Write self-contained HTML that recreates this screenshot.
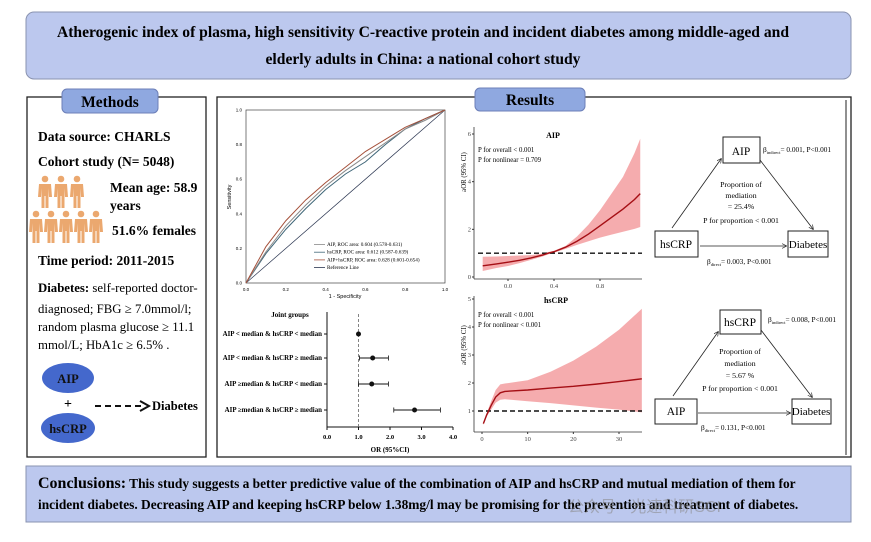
<!DOCTYPE html>
<html><head><meta charset="utf-8"><style>
html,body{margin:0;padding:0;background:#fff;}
svg{display:block;font-family:"Liberation Serif","Noto Serif CJK SC",serif;}
</style></head><body>
<svg id="s" width="871" height="542" viewBox="0 0 871 542" xmlns="http://www.w3.org/2000/svg">
<rect width="871" height="542" fill="#fff"/>
<rect x="26" y="12" width="825" height="67" rx="8" fill="#bcc8ee" stroke="#8a93b0" stroke-width="1"/>
<text x="423" y="37" text-anchor="middle" font-size="15.6" font-weight="bold">Atherogenic index of plasma, high sensitivity C-reactive protein and incident diabetes among middle-aged and</text>
<text x="423" y="64" text-anchor="middle" font-size="15.6" font-weight="bold">elderly adults in China: a national cohort study</text>

<rect x="27" y="97" width="179" height="360" fill="#fff" stroke="#222" stroke-width="1.3"/>
<rect x="62" y="89" width="96" height="24" rx="5" fill="#8fa8e0" stroke="#6c7fb8"/>
<text x="110" y="107" text-anchor="middle" font-size="15.5" font-weight="bold">Methods</text>
<g font-size="13.5" font-weight="bold">
<text x="38" y="141">Data source: CHARLS</text>
<text x="38" y="166">Cohort study (N= 5048)</text>
<text x="110" y="192">Mean age: 58.9</text>
<text x="110" y="210">years</text>
<text x="112" y="235">51.6% females</text>
<text x="38" y="265">Time period: 2011-2015</text>
</g>
<g id="people" fill="#eba86f"></g>
<g font-size="12.8">
<text x="38" y="292"><tspan font-weight="bold">Diabetes:</tspan> self-reported doctor-</text>
<text x="38" y="313">diagnosed; FBG ≥ 7.0mmol/l;</text>
<text x="38" y="331">random plasma glucose ≥ 11.1</text>
<text x="38" y="349">mmol/L;  HbA1c ≥ 6.5% .</text>
</g>
<ellipse cx="68" cy="378" rx="26" ry="15" fill="#4468cc"/>
<text x="68" y="383" text-anchor="middle" font-size="12.5" font-weight="bold" fill="#111">AIP</text>
<text x="68" y="408" text-anchor="middle" font-size="14" font-weight="bold">+</text>
<ellipse cx="68" cy="428" rx="27" ry="15" fill="#4468cc"/>
<text x="68" y="433" text-anchor="middle" font-size="12.5" font-weight="bold" fill="#111">hsCRP</text>
<line x1="95" y1="406" x2="142" y2="406" stroke="#111" stroke-width="2" stroke-dasharray="6,4"/>
<path d="M140,401 L149,406 L140,411" fill="none" stroke="#111" stroke-width="2"/>
<text x="152" y="410" font-size="12.5" font-weight="bold">Diabetes</text>

<rect x="217" y="97" width="634" height="360" fill="none" stroke="#222" stroke-width="1.3"/>
<rect x="475" y="88" width="110" height="23" rx="5" fill="#8fa8e0" stroke="#6c7fb8"/>
<text x="530" y="105" text-anchor="middle" font-size="15.5" font-weight="bold">Results</text>

<g id="roc"></g>
<g id="forest"></g>
<g id="aip"></g>
<g id="crp"></g>

<defs><marker id="ah" markerWidth="6" markerHeight="6" refX="5" refY="3" orient="auto"><path d="M0,0 L6,3 L0,6" fill="none" stroke="#222" stroke-width="0.8"/></marker></defs>
<g font-size="8.5">
<rect x="723" y="137" width="37" height="26" fill="#fff" stroke="#222"/>
<text x="741" y="155" text-anchor="middle" font-size="11.5">AIP</text>
<rect x="655" y="231" width="43" height="26" fill="#fff" stroke="#222"/>
<text x="676" y="248" text-anchor="middle" font-size="11.5">hsCRP</text>
<rect x="788" y="231" width="40" height="26" fill="#fff" stroke="#222"/>
<text x="808" y="248" text-anchor="middle" font-size="11">Diabetes</text>
<line x1="672" y1="228" x2="721" y2="159" stroke="#222" stroke-width="0.8" marker-end="url(#ah)"/>
<line x1="760" y1="160" x2="813" y2="229" stroke="#222" stroke-width="0.8" marker-end="url(#ah)"/>
<line x1="700" y1="246" x2="786" y2="246" stroke="#222" stroke-width="0.8" marker-end="url(#ah)"/>
<text x="763" y="152" font-size="7.3">β<tspan font-size="4.5" dy="2">indirect</tspan><tspan dy="-2">= 0.001, P&lt;0.001</tspan></text>
<text x="741" y="187" text-anchor="middle" font-size="7.8">Proportion of</text>
<text x="741" y="198" text-anchor="middle" font-size="7.8">mediation</text>
<text x="741" y="209" text-anchor="middle" font-size="7.8">= 25.4%</text>
<text x="741" y="223" text-anchor="middle" font-size="7.8">P for proportion &lt; 0.001</text>
<text x="707" y="264" font-size="7.3">β<tspan font-size="4.5" dy="2">direct</tspan><tspan dy="-2">= 0.003, P&lt;0.001</tspan></text>
</g>
<g font-size="8.5">
<rect x="720" y="310" width="41" height="24" fill="#fff" stroke="#222"/>
<text x="740" y="326" text-anchor="middle" font-size="11.5">hsCRP</text>
<rect x="655" y="399" width="42" height="25" fill="#fff" stroke="#222"/>
<text x="676" y="415" text-anchor="middle" font-size="11.5">AIP</text>
<rect x="792" y="399" width="39" height="25" fill="#fff" stroke="#222"/>
<text x="811" y="415" text-anchor="middle" font-size="11">Diabetes</text>
<line x1="673" y1="396" x2="718" y2="332" stroke="#222" stroke-width="0.8" marker-end="url(#ah)"/>
<line x1="761" y1="330" x2="812" y2="397" stroke="#222" stroke-width="0.8" marker-end="url(#ah)"/>
<line x1="698" y1="413" x2="790" y2="413" stroke="#222" stroke-width="0.8" marker-end="url(#ah)"/>
<text x="768" y="322" font-size="7.3">β<tspan font-size="4.5" dy="2">indirect</tspan><tspan dy="-2">= 0.008, P&lt;0.001</tspan></text>
<text x="740" y="354" text-anchor="middle" font-size="7.8">Proportion of</text>
<text x="740" y="366" text-anchor="middle" font-size="7.8">mediation</text>
<text x="740" y="378" text-anchor="middle" font-size="7.8">= 5.67 %</text>
<text x="740" y="391" text-anchor="middle" font-size="7.8">P for proportion &lt; 0.001</text>
<text x="701" y="430" font-size="7.3">β<tspan font-size="4.5" dy="2">direct</tspan><tspan dy="-2">= 0.131, P&lt;0.001</tspan></text>
</g>
<line x1="846" y1="100" x2="846" y2="455" stroke="#222" stroke-width="1"/>

<rect x="26" y="466" width="825" height="56" fill="#bcc8ee" stroke="#8a93b0"/>
<text x="38" y="488" font-size="13.4" font-weight="bold"><tspan font-size="16">Conclusions:</tspan> This study suggests a better predictive value of the combination of AIP and hsCRP and mutual mediation of them for</text>
<text x="38" y="509" font-size="13.4" font-weight="bold">incident diabetes. Decreasing AIP and keeping hsCRP below 1.38mg/l may be promising for the prevention and treatment of diabetes.</text>
<text x="568" y="512" font-size="16" fill="#888" opacity="0.55" font-family="Liberation Sans, Noto Sans CJK SC, sans-serif">公众号 · 光速科研SCI</text>
</svg>
<script>
// ROC data
const rocFpr=[0,0.1,0.2,0.3,0.4,0.5,0.6,0.7,0.8,0.9,1];
const rocAip=[0,0.18,0.33,0.45,0.56,0.65,0.73,0.81,0.89,0.94,1];
const rocCrp=[0,0.17,0.31,0.43,0.54,0.63,0.70,0.80,0.89,0.95,1];
const rocComb=[0,0.21,0.36,0.48,0.58,0.67,0.76,0.83,0.90,0.95,1];
const rocTicks=[0,0.2,0.4,0.6,0.8,1];
// forest data
const fGroups=["AIP < median & hsCRP < median","AIP < median & hsCRP ≥ median","AIP ≥median & hsCRP < median","AIP ≥median & hsCRP ≥ median"];
const fOR=[1.0,1.45,1.42,2.78];
const fLo=[1.0,1.03,1.0,2.12];
const fHi=[1.0,1.95,1.95,3.6];
const fTicks=[0,1,2,3,4];
// AIP spline
const aX=[-0.22,-0.1,0,0.1,0.2,0.3,0.35,0.4,0.5,0.6,0.7,0.8,0.9,1.0,1.1,1.15];
const aY=[0.47,0.55,0.62,0.70,0.80,0.92,1.0,1.06,1.25,1.5,1.8,2.15,2.5,2.85,3.25,3.5];
const aLo=[0.25,0.38,0.46,0.58,0.72,0.86,0.95,1.02,1.18,1.35,1.5,1.65,1.78,1.9,2.02,2.1];
const aHi=[0.85,0.86,0.88,0.9,0.92,0.98,1.05,1.1,1.3,1.7,2.2,2.8,3.5,4.2,5.2,5.8];
const aYT=[0,2,4,6], aXT=[0,0.4,0.8];
// hsCRP spline
const cX=[0.3,1,2,3,4,5,10,15,20,25,30,35];
const cY=[0.55,0.85,1.2,1.5,1.65,1.7,1.75,1.82,1.88,1.96,2.05,2.15];
const cLo=[0.5,0.8,1.05,1.3,1.4,1.42,1.35,1.28,1.2,1.12,1.05,0.95];
const cHi=[0.6,0.9,1.35,1.75,1.95,1.98,2.1,2.4,2.8,3.3,3.9,4.65];
const cYT=[1,2,3,4,5], cXT=[0,10,20,30];

const NS="http://www.w3.org/2000/svg";
function mk(p,t,a,txt){const e=document.createElementNS(NS,t);for(const k in a)e.setAttribute(k,a[k]);if(txt!==undefined)e.textContent=txt;p.appendChild(e);return e;}
function lin(d0,d1,r0,r1){return v=>r0+(v-d0)*(r1-r0)/(d1-d0);}

(function(){const g=document.getElementById('roc');
const x=lin(0,1,246,445),y=lin(0,1,283,110);
let e=mk(g,'rect',{x:246,y:110,width:199,height:173,fill:'none',stroke:'#444','stroke-width':0.7});


rocTicks.forEach(t=>{
 e=mk(g,'text',{x:x(t),y:291,'text-anchor':'middle','font-size':4.5,'font-family':'Liberation Sans, sans-serif'},t.toFixed(1));
 
 
 e=mk(g,'text',{x:242,y:y(t)+1.5,'text-anchor':'end','font-size':4.5,'font-family':'Liberation Sans, sans-serif'},t.toFixed(1));
 
 
});
e=mk(g,'text',{x:345,y:298,'text-anchor':'middle','font-size':5.5,'font-family':'Liberation Sans, sans-serif'},'1 - Specificity');


e=mk(g,'text',{x:231,y:197,'text-anchor':'middle','font-size':5.5,'font-family':'Liberation Sans, sans-serif',transform:'rotate(-90 231 197)'},'Sensitivity');


e=mk(g,'line',{x1:x(0),y1:y(0),x2:x(1),y2:y(1),stroke:'#2a3550','stroke-width':0.7});


[[rocCrp,'#3f6678','roc-hscrp-curve'],[rocAip,'#8a8a8a','roc-aip-curve'],[rocComb,'#a5503a','roc-combined-curve']].forEach(([s,c,n])=>{
 const pts=rocFpr.map((f,i)=>x(f)+','+y(s[i])).join(' ');
 const l=mk(g,'polyline',{points:pts,fill:'none',stroke:c,'stroke-width':1});
 
 
});
const leg=[['#8a8a8a','AIP,     ROC area: 0.604 (0.578-0.631)'],['#3f6678','hsCRP,  ROC area: 0.612 (0.587-0.639)'],['#a5503a','AIP+hsCRP,   ROC area: 0.628 (0.601-0.654)'],['#2a3550','Reference Line']];
leg.forEach((l,i)=>{const yy=246+i*7.7;
 mk(g,'line',{x1:314,y1:yy-1.5,x2:325,y2:yy-1.5,stroke:l[0],'stroke-width':0.8});
 e=mk(g,'text',{x:327,y:yy,'font-size':5.2},l[1]);
 
 
});
})();

(function(){const g=document.getElementById('forest');
const x=lin(0,4,327,453);const rows=[334,358,384,410];
let e=mk(g,'line',{x1:327,y1:312,x2:327,y2:427,stroke:'#111','stroke-width':1});
e=mk(g,'line',{x1:327,y1:427,x2:453,y2:427,stroke:'#111','stroke-width':1});


fTicks.forEach(t=>{mk(g,'line',{x1:x(t),y1:427,x2:x(t),y2:430,stroke:'#111'});
 e=mk(g,'text',{x:x(t),y:439,'text-anchor':'middle','font-size':6.5,'font-weight':'bold'},t.toFixed(1));
 
 });
e=mk(g,'text',{x:390,y:452,'text-anchor':'middle','font-size':7,'font-weight':'bold'},'OR (95%CI)');


e=mk(g,'text',{x:290,y:317,'text-anchor':'middle','font-size':7,'font-weight':'bold'},'Joint groups');


mk(g,'line',{x1:x(1),y1:314,x2:x(1),y2:427,stroke:'#666','stroke-width':0.8,'stroke-dasharray':'3,2'});
fGroups.forEach((n,i)=>{const yy=rows[i];
 mk(g,'line',{x1:324,y1:yy,x2:327,y2:yy,stroke:'#111'});
 e=mk(g,'text',{x:322,y:yy+2,'text-anchor':'end','font-size':6.9,'font-weight':'bold'},n);
 
 
 e=mk(g,'line',{x1:x(fLo[i]),y1:yy,x2:x(fHi[i]),y2:yy,stroke:'#111','stroke-width':0.9});
 
 
 if(fHi[i]>fLo[i]){mk(g,'line',{x1:x(fLo[i]),y1:yy-2.5,x2:x(fLo[i]),y2:yy+2.5,stroke:'#111','stroke-width':0.8});mk(g,'line',{x1:x(fHi[i]),y1:yy-2.5,x2:x(fHi[i]),y2:yy+2.5,stroke:'#111','stroke-width':0.8});}
 e=mk(g,'circle',{cx:x(fOR[i]),cy:yy,r:2.5,fill:'#111'});
 
 
});
})();

function spline(id,X,Y,LO,HI,YT,XT,xd,xr,yd,yr,px0,px1,yb,ytop,title,tx,ty,p1,p2,yl,ylx,xfmt){
 const g=document.getElementById(id);const x=lin(xd[0],xd[1],xr[0],xr[1]),y=lin(yd[0],yd[1],yr[0],yr[1]);
 let e;
 const band=X.map((v,i)=>x(v)+','+y(HI[i])).concat(X.map((v,i)=>x(v)+','+y(LO[i])).reverse()).join(' ');
 e=mk(g,'polygon',{points:band,fill:'#f4a3a5',opacity:0.9});
 
 
 e=mk(g,'line',{x1:px0+4,y1:y(1),x2:px1,y2:y(1),stroke:'#111','stroke-width':1.4,'stroke-dasharray':'5,3'});
 
 
 e=mk(g,'polyline',{points:X.map((v,i)=>x(v)+','+y(Y[i])).join(' '),fill:'none',stroke:'#a50f15','stroke-width':1.4});
 
 
 mk(g,'line',{x1:px0,y1:yb,x2:px1,y2:yb,stroke:'#333','stroke-width':0.8});
 mk(g,'line',{x1:px0,y1:ytop,x2:px0,y2:yb,stroke:'#333','stroke-width':0.8});
 YT.forEach(t=>{mk(g,'line',{x1:px0-2,y1:y(t),x2:px0,y2:y(t),stroke:'#333'});
  e=mk(g,'text',{x:px0-3,y:y(t)+2,'text-anchor':'end','font-size':6.5,fill:'#444'},t);
  
  });
 XT.forEach(t=>{mk(g,'line',{x1:x(t),y1:yb,x2:x(t),y2:yb+2,stroke:'#333'});
  e=mk(g,'text',{x:x(t),y:yb+9,'text-anchor':'middle','font-size':6.5,fill:'#444'},xfmt(t));
  
  });
 e=mk(g,'text',{x:tx,y:ty,'text-anchor':'middle','font-size':8,'font-weight':'bold'},title);
 
 
 e=mk(g,'text',{x:px0+4,y:ty+14,'font-size':6.8},p1);
 
 
 e=mk(g,'text',{x:px0+4,y:ty+24,'font-size':6.8},p2);
 
 
 e=mk(g,'text',{x:ylx,y:yl,'text-anchor':'middle','font-size':6.8,transform:'rotate(-90 '+ylx+' '+yl+')'},'aOR (95% CI)');
 
 
}
spline('aip',aX,aY,aLo,aHi,aYT,aXT,[0,0.4],[508,554],[0,6],[277,134],474,642,279,127,'AIP',553,138,'P for overall < 0.001','P for nonlinear = 0.709',172,466,t=>t.toFixed(1));
spline('crp',cX,cY,cLo,cHi,cYT,cXT,[0,30],[482,619],[1,5],[411,299],474,642,432,296,'hsCRP',556,303,'P for overall < 0.001','P for nonlinear < 0.001',345,466,t=>String(t));

(function(){const g=document.getElementById('people');
const rows=[[[45,61,77],176],[[36,51,66,81,96],211]];
rows.forEach(([xs,y0])=>xs.forEach(cx=>{
 mk(g,'circle',{cx:cx,cy:y0+3,r:3.3});
 mk(g,'path',{d:`M${cx-6},${y0+8} h12 l1,13 h-3 l-0.5,-9 v20 h-3 v-12 h-1 v12 h-3 v-20 l-0.5,9 h-3 z`});
}));})();
</script>
</body></html>
